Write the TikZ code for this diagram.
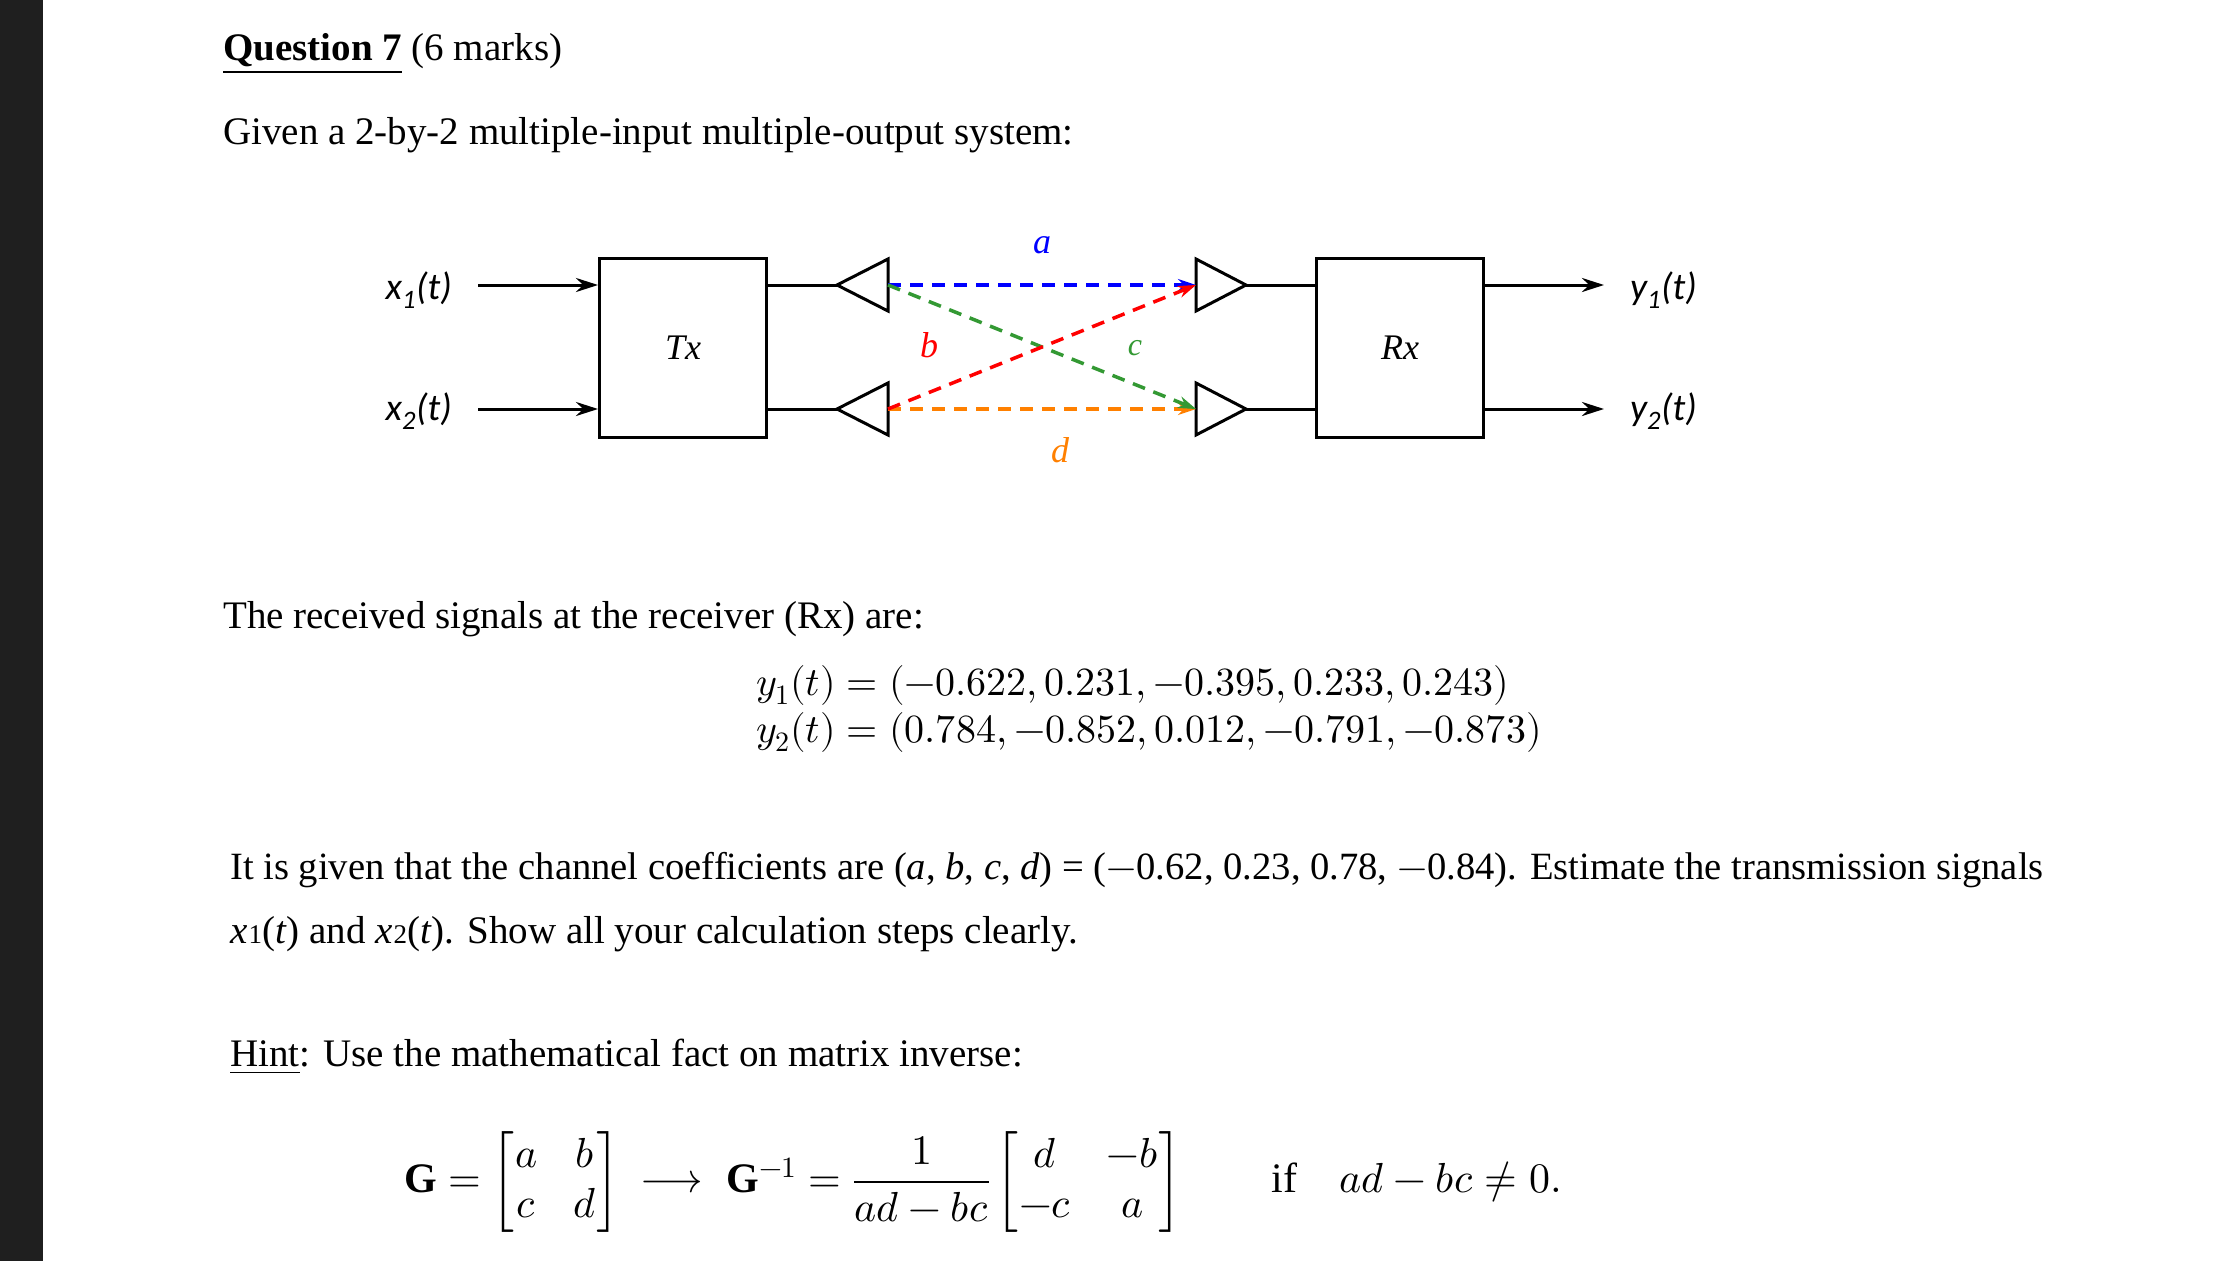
\documentclass[tikz,border=0pt]{standalone}
\usepackage{amsmath}
\usepackage{fontspec}
\usepackage{unicode-math}
\setmainfont{Liberation Serif}
\setmathfont{Latin Modern Math}
\newfontfamily\lblfont{Carlito}
\usetikzlibrary{arrows.meta}
\begin{document}
\begin{tikzpicture}[x=1pt,y=-1pt,
  txt/.style={anchor=west,inner sep=0pt,font=\fontsize{39}{46}\selectfont},
  blk/.style={draw,line width=3pt,minimum width=167pt,minimum height=179pt,inner sep=0pt,font=\fontsize{36}{42}\selectfont\itshape},
  sig/.style={line width=3pt,-{Stealth[length=22pt,width=14pt]}},
  wire/.style={line width=3pt},
  tri/.style={line width=3pt,line join=miter,fill=white},
  ch/.style={line width=3.5pt,dash pattern=on 13pt off 9pt,-{Stealth[length=18pt,width=12pt]}},
  clbl/.style={inner sep=0pt,font=\fontsize{36}{42}\selectfont\itshape},
  io/.style={inner sep=0pt,font=\fontsize{38}{45}\selectfont\lblfont\itshape}]
\useasboundingbox[fill=white] (0,0) rectangle (2225,1261);
\fill[black!88] (0,0) rectangle (43,1261);
% header
\node[txt] (q) at (223,54) {\textbf{\underline{Question 7}} (6 marks)};
\node[txt] (g) at (223,135) {Given a 2-by-2 multiple-input multiple-output system:};
% diagram
\node[blk] (tx) at (683,348) {Tx};
\node[blk] (rx) at (1400,348) {Rx};
\node[io,anchor=east] (x1) at (452,290) {x\textsubscript{1}(t)};
\node[io,anchor=east] (x2) at (452,411) {x\textsubscript{2}(t)};
\node[io,anchor=west] (y1) at (1630,290) {y\textsubscript{1}(t)};
\node[io,anchor=west] (y2) at (1630,411) {y\textsubscript{2}(t)};
\coordinate (x1e) at (478,285); \coordinate (x2e) at (478,409);
\coordinate (y1e) at (1604,285); \coordinate (y2e) at (1604,409);
\draw[sig] (x1e) -- (tx.west|-x1e);
\draw[sig] (x2e) -- (tx.west|-x2e);
\draw[sig] (rx.east|-y1e) -- (y1e);
\draw[sig] (rx.east|-y2e) -- (y2e);
% antennas
\coordinate (t1) at (837,285); \coordinate (t2) at (837,409);
\coordinate (b1) at (888,285); \coordinate (b2) at (888,409);
\coordinate (r1) at (1196,285); \coordinate (r2) at (1196,409);
\coordinate (s1) at (1246,285); \coordinate (s2) at (1246,409);
\draw[wire] (tx.east|-t1) -- (t1);
\draw[wire] (tx.east|-t2) -- (t2);
\draw[wire] (s1) -- (rx.west|-s1);
\draw[wire] (s2) -- (rx.west|-s2);
\draw[tri] (t1) -- ++(51,-26) -- ++(0,52) -- cycle;
\draw[tri] (t2) -- ++(51,-26) -- ++(0,52) -- cycle;
\draw[tri] (s1) -- ++(-50,-26) -- ++(0,52) -- cycle;
\draw[tri] (s2) -- ++(-50,-26) -- ++(0,52) -- cycle;
% channels
\draw[ch,color=blue] (b1) -- (r1);
\draw[ch,color=orange] (b2) -- (r2);
\draw[ch,color=green!50!black!80] (b1) -- (r2);
\draw[ch,color=red] (b2) -- (r1);
\node[clbl,text=blue] (la) at (1042,245) {a};
\node[clbl,text=red] (lb) at (929,345) {b};
\node[clbl,text=green!50!black!80,font=\fontsize{32}{38}\selectfont\itshape] (lc) at (1135,348) {c};
\node[clbl,text=orange] (ld) at (1060,450) {d};
% body
\node[txt] (r) at (223,619) {The received signals at the receiver (Rx) are:};
\node[txt,font=\fontsize{40}{48}\selectfont] (e1) at (756,685) {$y_1(t)=(-0.622,0.231,-0.395,0.233,0.243)$};
\node[txt,font=\fontsize{40}{48}\selectfont] (e2) at (756,732) {$y_2(t)=(0.784,-0.852,0.012,-0.791,-0.873)$};
\node[txt,font=\fontsize{38.6}{46}\selectfont] (p1) at (230,870) {It is given that the channel coefficients are (\textit{a}, \textit{b}, \textit{c}, \textit{d}) = ($-$0.62, 0.23, 0.78, $-$0.84). Estimate the transmission signals};
\node[txt] (p2) at (230,934) {\textit{x}\kern1pt{\fontsize{27}{30}\selectfont 1}(\textit{t}) and \textit{x}\kern1pt{\fontsize{27}{30}\selectfont 2}(\textit{t}). Show all your calculation steps clearly.};
\node[txt] (h) at (230,1057) {\underline{Hint}: Use the mathematical fact on matrix inverse:};
\node[txt,font=\fontsize{42}{50}\selectfont] (f) at (404,1182) {\setlength\arraycolsep{18pt}$\mathbf{G}=\begin{bmatrix} a & b\\ c & d\end{bmatrix}\;\longrightarrow\; \mathbf{G}^{-1}=\dfrac{1}{ad-bc}\begin{bmatrix} d & -b\\ -c & a\end{bmatrix}\qquad\text{if}\quad ad-bc\neq 0.$};
\end{tikzpicture}
\end{document}
